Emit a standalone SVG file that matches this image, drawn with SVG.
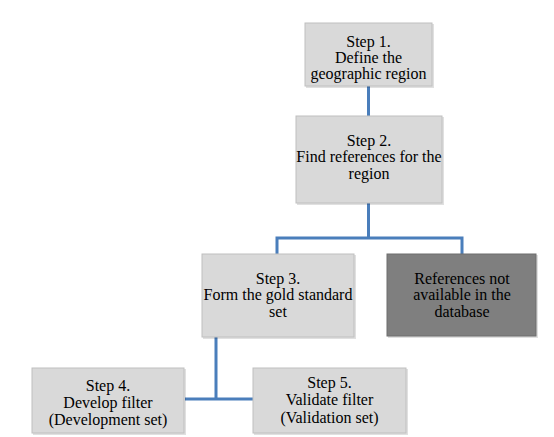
<svg xmlns="http://www.w3.org/2000/svg" width="554" height="437" viewBox="0 0 554 437">
<defs>
<style>
.box{fill:#d9d9d9;stroke:#bfbfbf;stroke-width:1}
.dark{fill:#7f7f7f;stroke:#6f6f6f;stroke-width:1}
.sh{fill:#000;opacity:0.12}
text{font-family:'Liberation Serif','Times New Roman',serif;font-size:16px;fill:#000;text-anchor:middle}
.conn{stroke:#4a7ebb;stroke-width:3;fill:none}
</style>
</defs>
<rect width="554" height="437" fill="#fff"/>
<g id="connectors">
<path class="conn" d="M368.5 86 V116"/>
<path class="conn" d="M368.5 203 V238 M277 254 V238 H462 V254"/>
<path class="conn" d="M216 337 V399 M185 399 H253"/>
</g>
<g id="step1">
<rect class="sh" x="306" y="24" width="128" height="64"/>
<rect class="box" x="305" y="23" width="127" height="63"/>
<text x="368.5" y="46.5">Step 1.</text>
<text x="368.5" y="62.5">Define the</text>
<text x="368.5" y="78.5">geographic region</text>
</g>
<g id="step2">
<rect class="sh" x="297" y="117" width="147" height="88"/>
<rect class="box" x="296" y="116" width="146" height="87"/>
<text x="369" y="145.5">Step 2.</text>
<text x="369" y="162">Find references for the</text>
<text x="369" y="178.5">region</text>
</g>
<g id="step3">
<rect class="sh" x="203" y="255" width="153" height="84"/>
<rect class="box" x="202" y="254" width="152" height="83"/>
<text x="278" y="283.5">Step 3.</text>
<text x="278" y="300">Form the gold standard</text>
<text x="278" y="316.5">set</text>
</g>
<g id="not-available">
<rect class="sh" x="388" y="255" width="150" height="83"/>
<rect class="dark" x="387" y="254" width="149" height="82"/>
<text x="462" y="283.5">References not</text>
<text x="462" y="300">available in the</text>
<text x="462" y="316.5">database</text>
</g>
<g id="step4">
<rect class="sh" x="33" y="369" width="153" height="66"/>
<rect class="box" x="32" y="368" width="152" height="65"/>
<text x="108" y="390.5">Step 4.</text>
<text x="108" y="407.5">Develop filter</text>
<text x="108" y="424.5">(Development set)</text>
</g>
<g id="step5">
<rect class="sh" x="254" y="369" width="154" height="66"/>
<rect class="box" x="253" y="368" width="153" height="65"/>
<text x="329.5" y="387.5">Step 5.</text>
<text x="329.5" y="405">Validate filter</text>
<text x="329.5" y="422.5">(Validation set)</text>
</g>
</svg>
